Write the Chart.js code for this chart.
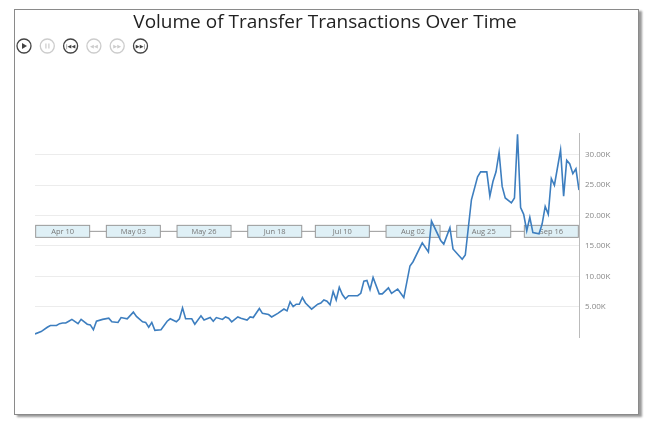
<!DOCTYPE html>
<html>
<head>
<meta charset="utf-8">
<script src="https://cdn.jsdelivr.net/npm/chart.js@4"></script>
<style>
  body { margin:0; background:#fff; }
  #wrap { position:relative; width:650px; height:425px; }
  #frame { position:absolute; left:14px; top:9px; width:623px; height:404px; border:1px solid #8a8a8a; box-shadow:3px 2px 2px #999; }
  #title { position:absolute; left:0; width:650px; top:8px; text-align:center; font:19px "Open Sans", sans-serif; color:#222; }
  #btns { position:absolute; left:16px; top:38px; }
  canvas { position:absolute; left:0; top:0; }
</style>
</head>
<body>
<div id="wrap">
  <div id="frame"></div>
  <canvas id="c" width="650" height="425"></canvas>
  <div id="title">Volume of Transfer Transactions Over Time</div>
  <svg id="btns" width="150" height="18"></svg>
</div>
<script>
// day offsets from Apr 1 and volumes in thousands
const days = [0,2,4,5,7,8,9,10,11,12,14,15,17,18,19,20,22,24,25,27,28,30,32,33,35,36,37,38,39,41,43,44,46,47,48,49,51,52,54,55,57,58,59,61,62,63,64,66,67,69,70,71,73,74,76,77,79,81,82,83,84,85,86,87,88,90,92,93,94,95,96,97,98,99,100,101,102,105,106,107,108,109,110,112,113,115,116,118,120,122,123,126,128,129,132,133,135,136,139,140,142,144,145,147,148,149,150,151,152,153,155,156,157,158,159,160,161,162,164,165,166,167,168,169,171,172,173,174,175,176,177];
const volumes = [0.5,0.9,1.6,1.9,1.9,2.2,2.3,2.3,2.6,2.9,2.2,2.9,2.1,2.0,1.2,2.6,2.9,3.1,2.5,2.4,3.2,3.0,4.1,3.4,2.5,2.4,1.6,2.4,1.1,1.2,2.6,3.0,2.5,3.0,4.8,3.0,3.0,2.1,3.5,2.8,3.2,2.6,3.2,2.9,3.3,3.1,2.5,3.3,3.1,2.8,3.3,3.2,4.7,3.9,3.7,3.3,3.9,4.6,4.3,5.8,5.0,5.4,5.4,6.5,5.6,4.6,5.4,5.6,6.1,5.9,5.3,7.5,6.1,8.2,7.0,6.3,6.8,6.8,7.2,9.2,9.3,7.8,9.8,7.1,7.1,8.1,7.2,7.9,6.5,11.7,12.4,15.5,14.0,19.1,15.9,15.3,18.0,14.5,12.8,13.5,22.6,26.4,27.2,27.2,23.2,25.6,27.2,30.4,24.8,22.9,22.1,22.9,33.4,21.3,20.2,17.5,19.7,17.2,17.0,18.6,21.5,20.2,26.1,25.0,30.8,23.2,29.1,28.5,26.9,27.7,24.2];
const tickDays = [9,32,55,78,100,123,146,168];
const tickLabels = ['Apr 10','May 03','May 26','Jun 18','Jul 10','Aug 02','Aug 25','Sep 16'];
const yTicks = [5,10,15,20,25,30];
const boxLevel = 17.4;

// play controls
const svg = document.getElementById('btns');
const btnOn = [true,false,true,false,false,true];
let s = '';
for (let i = 0; i < 6; i++) {
  const cx = 8 + i*23.3, col = btnOn[i] ? '#444' : '#ccc';
  s += `<circle cx="${cx}" cy="8" r="7" fill="none" stroke="${col}" stroke-width="1.3"/>`;
  if (i == 0) s += `<path d="M${cx-2} 5 L${cx+3} 8 L${cx-2} 11Z" fill="${col}"/>`;
  else if (i == 1) s += `<rect x="${cx-2}" y="5.5" width="1.2" height="5" fill="${col}"/><rect x="${cx+1}" y="5.5" width="1.2" height="5" fill="${col}"/>`;
  else s += `<text x="${cx}" y="10" font-size="5" text-anchor="middle" fill="${col}" font-family="DejaVu Sans">${['','','|◀◀','◀◀','▶▶','▶▶|'][i]}</text>`;
}
svg.innerHTML = s;

const dateBoxes = {
  id: 'dateBoxes',
  beforeDatasetsDraw(chart) {
    const ctx = chart.ctx, xs = chart.scales.x, ys = chart.scales.y;
    const y = ys.getPixelForValue(boxLevel);
    ctx.save();
    ctx.strokeStyle = '#999'; ctx.lineWidth = 1;
    ctx.beginPath();
    ctx.moveTo(xs.getPixelForValue(tickDays[0]), y);
    ctx.lineTo(xs.getPixelForValue(tickDays[tickDays.length-1]), y);
    ctx.stroke();
    ctx.font = '7.5px "Open Sans", sans-serif';
    ctx.textAlign = 'center'; ctx.textBaseline = 'middle';
    tickDays.forEach((d, i) => {
      const x = xs.getPixelForValue(d);
      ctx.fillStyle = '#dff0f6';
      ctx.fillRect(x-27, y-6, 54, 12);
      ctx.strokeStyle = '#999';
      ctx.strokeRect(x-27, y-6, 54, 12);
      ctx.fillStyle = '#777';
      ctx.fillText(tickLabels[i], x, y+0.5);
    });
    ctx.restore();
  }
};

new Chart(document.getElementById('c'), {
  type: 'line',
  data: {
    datasets: [{
      data: days.map((d, i) => ({x: d, y: volumes[i]})),
      borderColor: '#3d7ebf',
      borderWidth: 1.6,
      pointRadius: 0,
      tension: 0
    }]
  },
  options: {
    responsive: false,
    animation: false,
    layout: { padding: { left: 35, top: 133, bottom: 88, right: 0 } },
    plugins: { legend: { display: false }, tooltip: { enabled: false } },
    scales: {
      x: { type: 'linear', min: 0, max: 177, display: false },
      y: {
        position: 'right', min: 0, max: 33.6,
        afterBuildTicks: (a) => { a.ticks = yTicks.map(v => ({value: v})); },
        afterFit: (a) => { a.width = 71; },
        border: { color: '#bbb', width: 1 },
        grid: { color: '#ececec', drawTicks: false },
        ticks: {
          padding: 6, color: '#888',
          font: { size: 8, family: '"Open Sans", sans-serif' },
          callback: v => v.toFixed(2) + 'K'
        }
      }
    }
  },
  plugins: [dateBoxes]
});
</script>
</body>
</html>
